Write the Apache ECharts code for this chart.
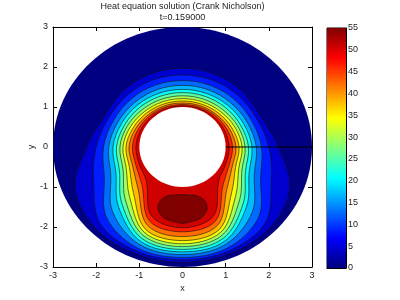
<!DOCTYPE html>
<html><head><meta charset="utf-8">
<script src="https://cdn.jsdelivr.net/npm/echarts@6/dist/echarts.min.js"></script>
<style>html,body{margin:0;padding:0;background:#fff}#c{width:400px;height:300px}</style>
</head><body><div id="c"></div>
<script>
// ---------- data ----------
const titleLine1 = 'Heat equation solution (Crank Nicholson)';
const titleLine2 = 't=0.159000';
const axisRange = [-3, 3];
const colorbarRange = [0, 55];
const outerRadius = 3;   // domain outer circle
const innerRadius = 1;   // hole
// contour radii sampled along rays (degrees), right half; left half mirrored
const rayAngles = [90, 67.5, 45, 22.5, 0, -22.5, -45, -67.5, -90];
const level1  = [1.97, 1.97, 1.96, 1.97, 2.22, 2.69, 2.86, 2.88, 2.88];
const level2  = [1.80, 1.81, 1.82, 1.86, 2.00, 2.23, 2.70, 2.81, 2.82];
const level3  = [1.66, 1.67, 1.69, 1.73, 1.83, 1.96, 2.49, 2.73, 2.76];
const level4  = [1.54, 1.55, 1.57, 1.62, 1.71, 1.80, 2.29, 2.63, 2.69];
const level5  = [1.44, 1.45, 1.48, 1.53, 1.61, 1.67, 2.10, 2.55, 2.62];
const level6  = [1.36, 1.37, 1.40, 1.45, 1.53, 1.58, 1.99, 2.47, 2.56];
const level7  = [1.28, 1.29, 1.32, 1.38, 1.45, 1.49, 1.87, 2.39, 2.49];
const level8  = [1.21, 1.22, 1.25, 1.31, 1.38, 1.41, 1.74, 2.31, 2.42];
const level9  = [1.15, 1.16, 1.19, 1.24, 1.31, 1.33, 1.61, 2.23, 2.34];
const level10 = [1.10, 1.11, 1.13, 1.18, 1.24, 1.25, 1.46, 2.12, 2.24];
const level11 = [1.06, 1.07, 1.09, 1.12, 1.16, 1.17, 1.33, 2.00, 2.12];
const level12 = [1.03, 1.035, 1.045, 1.06, 1.08, 1.09, 1.19, 1.87, 2.02];
// hottest blob (separate closed contour) around its own centre
const blobCenter = [0, -1.55];
const blobRadii = [0.36, 0.38, 0.47, 0.555, 0.57, 0.50, 0.41, 0.36, 0.36];
// seam line drawn on the plot
const seamLine = [[1, 0], [3, 0]];
// band fill colours (jet), outermost -> hottest
const bandColors = ['#000080','#0000CE','#001DFF','#006CFF','#00BAFF','#0AFFF5','#58FFA7',
                    '#A7FF58','#F5FF0A','#FFBA00','#FF6C00','#FF1D00','#CE0000','#800000'];
const jetStops = [[0,'#000080'],[0.125,'#0000FF'],[0.375,'#00FFFF'],[0.625,'#FFFF00'],[0.875,'#FF0000'],[1,'#800000']];

const contourLevels = [level1, level2, level3, level4, level5, level6,
                       level7, level8, level9, level10, level11, level12];

// ---------- helpers ----------
function polarPoint(r, deg, c) {
  const a = deg * Math.PI / 180;
  return [c[0] + r * Math.cos(a), c[1] + r * Math.sin(a)];
}
function ringPoints(radii, c) {
  const pts = [];
  for (let i = 0; i < rayAngles.length; i++) pts.push(polarPoint(radii[i], rayAngles[i], c));
  for (let i = rayAngles.length - 2; i >= 1; i--) pts.push(polarPoint(radii[i], 180 - rayAngles[i], c));
  return pts;
}
const FONT = 'Liberation Sans, Arial, Helvetica, sans-serif';
const SMOOTH = 0.35;

const chart = echarts.init(document.getElementById('c'));

function ellipseItem(api, r, fill) {
  const c = api.coord([0, 0]);
  const s = api.size([r, r]);
  return { type: 'ellipse', shape: { cx: c[0], cy: c[1], rx: s[0], ry: s[1] },
           style: { fill: fill, stroke: null } };
}

const axisCommon = {
  type: 'value', min: axisRange[0], max: axisRange[1], interval: 1,
  axisLine: { show: true, onZero: false, lineStyle: { color: '#000', width: 1 } },
  axisTick: { show: true, inside: true, length: 4, lineStyle: { color: '#000' } },
  splitLine: { show: false }
};

chart.setOption({
  animation: false,
  backgroundColor: '#fff',
  graphic: [
    { type: 'text', x: 182.5, y: 2, style: { text: titleLine1, fill: '#222', font: '9px ' + FONT, textAlign: 'center', textVerticalAlign: 'top' } },
    { type: 'text', x: 182.5, y: 13.5, style: { text: titleLine2, fill: '#222', font: '9px ' + FONT, textAlign: 'center', textVerticalAlign: 'top' } }
  ],
  grid: [
    { left: 53, top: 27, width: 259, height: 240, show: false },
    { left: 327, top: 28, width: 19, height: 240, show: true, borderColor: '#000', borderWidth: 1, backgroundColor: 'transparent' }
  ],
  xAxis: [
    Object.assign({}, axisCommon, { gridIndex: 0, position: 'bottom', name: 'x', nameLocation: 'middle', nameGap: 17,
      nameMoveOverlap: false,
      nameTextStyle: { color: '#222', fontSize: 9, fontFamily: FONT },
      axisLabel: { color: '#222', fontSize: 9, fontFamily: FONT, margin: 4 } }),
    Object.assign({}, axisCommon, { gridIndex: 0, position: 'top', axisLabel: { show: false } }),
    { gridIndex: 1, type: 'category', data: [''], axisLine: { show: true, lineStyle: { color: '#000' } },
      axisTick: { show: false }, axisLabel: { show: false } }
  ],
  yAxis: [
    Object.assign({}, axisCommon, { gridIndex: 0, position: 'left', name: 'y', nameLocation: 'middle', nameGap: 17, nameRotate: 90,
      nameMoveOverlap: false,
      nameTextStyle: { color: '#222', fontSize: 9, fontFamily: FONT },
      axisLabel: { color: '#222', fontSize: 9, fontFamily: FONT, margin: 5 } }),
    Object.assign({}, axisCommon, { gridIndex: 0, position: 'right', axisLabel: { show: false } }),
    { gridIndex: 1, type: 'value', min: colorbarRange[0], max: colorbarRange[1], interval: 5, position: 'right',
      axisLine: { show: true, lineStyle: { color: '#000' } },
      axisTick: { show: true, inside: true, length: 3, lineStyle: { color: '#000' } },
      splitLine: { show: false },
      axisLabel: { color: '#222', fontSize: 9, fontFamily: FONT, margin: 2 } }
  ],
  series: [
    { // outer domain
      type: 'custom', xAxisIndex: 0, yAxisIndex: 0, data: [[0, 0]], silent: true,
      renderItem: (p, api) => ellipseItem(api, outerRadius, bandColors[0])
    },
    { // nested contour bands
      type: 'custom', xAxisIndex: 0, yAxisIndex: 0, silent: true,
      data: contourLevels.map((r, i) => [i, 0]),
      renderItem: (p, api) => {
        const radii = contourLevels[p.dataIndex];
        const pts = ringPoints(radii, [0, 0]).map(q => api.coord(q));
        return { type: 'polygon', shape: { points: pts, smooth: SMOOTH },
                 style: { fill: bandColors[p.dataIndex + 1], stroke: '#111', lineWidth: 0.6 } };
      }
    },
    { // hottest blob
      type: 'custom', xAxisIndex: 0, yAxisIndex: 0, silent: true, data: [[0, 0]],
      renderItem: (p, api) => {
        const pts = ringPoints(blobRadii, blobCenter).map(q => api.coord(q));
        return { type: 'polygon', shape: { points: pts, smooth: SMOOTH },
                 style: { fill: bandColors[13], stroke: '#111', lineWidth: 0.6 } };
      }
    },
    { // hole
      type: 'custom', xAxisIndex: 0, yAxisIndex: 0, silent: true, data: [[0, 0]],
      renderItem: (p, api) => ellipseItem(api, innerRadius, '#fff')
    },
    { // seam
      type: 'line', xAxisIndex: 0, yAxisIndex: 0, data: seamLine, symbol: 'none', silent: true,
      lineStyle: { color: '#000', width: 1 }
    },
    { // colorbar
      type: 'bar', xAxisIndex: 2, yAxisIndex: 2, data: [colorbarRange[1]], barWidth: '100%', silent: true,
      itemStyle: { color: new echarts.graphic.LinearGradient(0, 1, 0, 0, jetStops.map(s => ({ offset: s[0], color: s[1] }))) }
    }
  ]
});
</script></body></html>
